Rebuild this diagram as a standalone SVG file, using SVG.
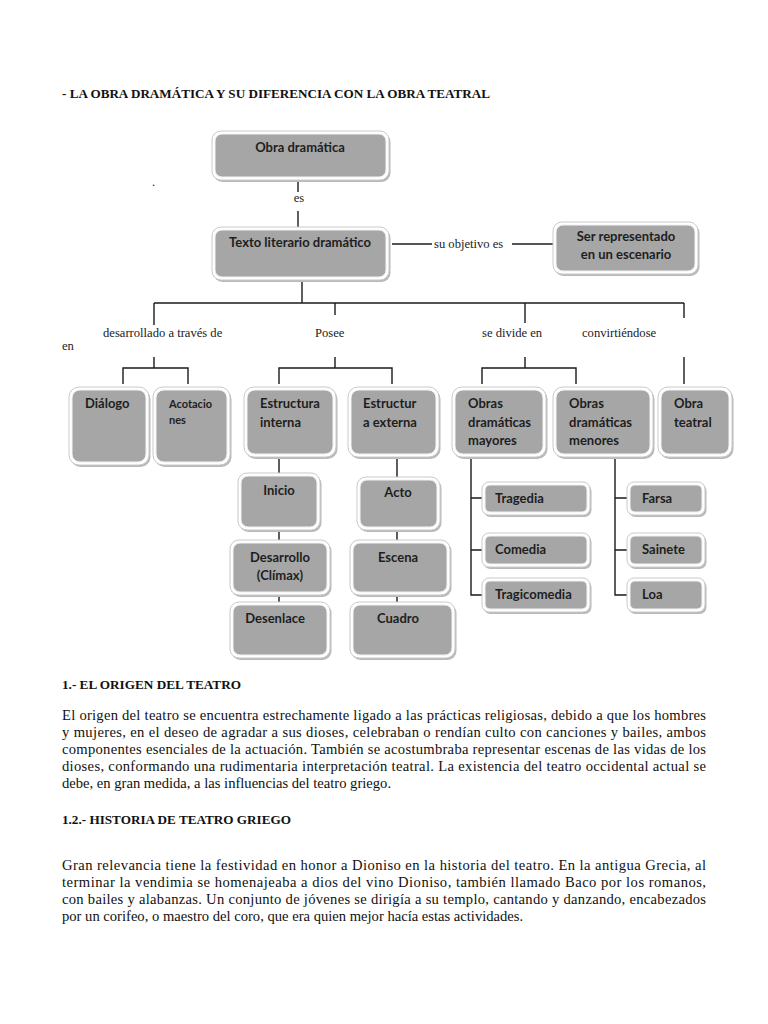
<svg xmlns="http://www.w3.org/2000/svg" width="768" height="1024" viewBox="0 0 768 1024">
<style>
.bg{fill:#ffffff}
.sh{fill:#b9b9b9}
.halo{fill:#ffffff;stroke:#c9c9c9;stroke-width:1}
.box{fill:#a6a6a6;stroke:#f2f2f2;stroke-width:1}
.nt{font-family:Lato,"Open Sans",sans-serif;font-weight:bold;font-size:13px;fill:#1e1e1e}
.ns{font-family:Lato,"Open Sans",sans-serif;font-weight:bold;font-size:11px;fill:#1e1e1e}
.c{text-anchor:middle}
.lbl{font-family:"Liberation Serif",serif;font-size:12.6px;fill:#222}
.conn{stroke:#1a1a1a;stroke-width:1.4;fill:none}
.soft{stroke:#555;stroke-width:2;fill:none}
.hd{font-family:"Liberation Serif",serif;font-weight:bold;font-size:12.5px;fill:#111}
.body{font-family:"Liberation Serif",serif;font-size:14.6px;fill:#111}
</style>
<rect class="bg" x="0" y="0" width="768" height="1024"/>

<text class="hd" x="62" y="98" textLength="428" lengthAdjust="spacingAndGlyphs">- LA OBRA DRAMÁTICA Y SU DIFERENCIA CON LA OBRA TEATRAL</text>
<text class="lbl" x="152" y="186" font-size="10">.</text>

<g id="connectors">
  <line class="conn" x1="298" y1="180" x2="298" y2="192"/>
  <line class="conn" x1="298" y1="211" x2="298" y2="227"/>
  <line class="conn" x1="302" y1="280" x2="302" y2="303"/>
  <line class="soft" x1="392" y1="244" x2="432" y2="244"/>
  <line class="soft" x1="512" y1="244" x2="553" y2="244"/>
  <line class="conn" x1="154" y1="303" x2="684" y2="303"/>
  <line class="conn" x1="154" y1="303" x2="154" y2="325"/>
  <line class="conn" x1="335" y1="303" x2="335" y2="315"/>
  <line class="conn" x1="525" y1="303" x2="525" y2="323"/>
  <line class="conn" x1="684" y1="303" x2="684" y2="318"/>
  <path class="conn" d="M154 357V368M123 384V368H188V384"/>
  <path class="conn" d="M335 357V368M279 384V368H392V384"/>
  <path class="conn" d="M525 357V368M482 384V368H576V384"/>
  <line class="conn" x1="684" y1="357" x2="684" y2="384"/>
  <path class="conn" d="M279 457V473M279 530V540M279 595V602"/>
  <path class="conn" d="M397 457V477M397 530V540M397 595V602"/>
  <path class="conn" d="M471 457V595H482M471 498H482M471 550H482"/>
  <path class="conn" d="M615 457V595H627M615 498H627M615 550H627"/>
  <text class="lbl c" x="299" y="202">es</text>
  <text class="lbl" x="434" y="248">su objetivo es</text>
  <text class="lbl" x="103" y="337">desarrollado a través de</text>
  <text class="lbl" x="315" y="337">Posee</text>
  <text class="lbl" x="482" y="337">se divide en</text>
  <text class="lbl" x="582" y="337">convirtiéndose</text>
  <text class="lbl" x="62" y="350">en</text>
</g>

<g id="obra-dramatica">
  <rect class="sh" x="213.5" y="133" width="177" height="49" rx="9"/>
  <rect class="halo" x="212" y="131" width="177" height="49" rx="9"/>
  <rect class="box" x="215" y="134" width="171" height="43" rx="7"/>
  <text class="nt c" x="300" y="152">Obra dramática</text>
</g>
<g id="texto-literario">
  <rect class="sh" x="213.5" y="229" width="177" height="53" rx="9"/>
  <rect class="halo" x="212" y="227" width="177" height="53" rx="9"/>
  <rect class="box" x="215" y="230" width="171" height="47" rx="7"/>
  <text class="nt c" x="300" y="247">Texto literario dramático</text>
</g>
<g id="ser-representado">
  <rect class="sh" x="554.5" y="224" width="145" height="52" rx="9"/>
  <rect class="halo" x="553" y="222" width="145" height="52" rx="9"/>
  <rect class="box" x="556" y="225" width="139" height="46" rx="7"/>
  <text class="nt c" x="626" y="241">Ser representado</text>
  <text class="nt c" x="626" y="259">en un escenario</text>
</g>

<g id="dialogo">
  <rect class="sh" x="70.5" y="389" width="80" height="78" rx="10"/>
  <rect class="halo" x="69" y="387" width="80" height="78" rx="10"/>
  <rect class="box" x="72" y="390" width="74" height="72" rx="8"/>
  <text class="nt" x="85" y="408">Diálogo</text>
</g>
<g id="acotaciones">
  <rect class="sh" x="154.5" y="389" width="77" height="78" rx="10"/>
  <rect class="halo" x="153" y="387" width="77" height="78" rx="10"/>
  <rect class="box" x="156" y="390" width="71" height="72" rx="8"/>
  <text class="ns" x="169" y="408">Acotacio</text>
  <text class="ns" x="169" y="424">nes</text>
</g>
<g id="estructura-interna">
  <rect class="sh" x="245.5" y="389" width="92" height="70" rx="10"/>
  <rect class="halo" x="244" y="387" width="92" height="70" rx="10"/>
  <rect class="box" x="247" y="390" width="86" height="64" rx="8"/>
  <text class="nt" x="260" y="408">Estructura</text>
  <text class="nt" x="260" y="427">interna</text>
</g>
<g id="estructura-externa">
  <rect class="sh" x="349.5" y="389" width="91" height="70" rx="10"/>
  <rect class="halo" x="348" y="387" width="91" height="70" rx="10"/>
  <rect class="box" x="351" y="390" width="85" height="64" rx="8"/>
  <text class="nt" x="363" y="408">Estructur</text>
  <text class="nt" x="363" y="427">a externa</text>
</g>
<g id="obras-mayores">
  <rect class="sh" x="453.5" y="389" width="94" height="70" rx="10"/>
  <rect class="halo" x="452" y="387" width="94" height="70" rx="10"/>
  <rect class="box" x="455" y="390" width="88" height="64" rx="8"/>
  <text class="nt" x="468" y="408">Obras</text>
  <text class="nt" x="468" y="427">dramáticas</text>
  <text class="nt" x="468" y="445">mayores</text>
</g>
<g id="obras-menores">
  <rect class="sh" x="554.5" y="389" width="100" height="70" rx="10"/>
  <rect class="halo" x="553" y="387" width="100" height="70" rx="10"/>
  <rect class="box" x="556" y="390" width="94" height="64" rx="8"/>
  <text class="nt" x="569" y="408">Obras</text>
  <text class="nt" x="569" y="427">dramáticas</text>
  <text class="nt" x="569" y="445">menores</text>
</g>
<g id="obra-teatral">
  <rect class="sh" x="659.5" y="389" width="74" height="70" rx="10"/>
  <rect class="halo" x="658" y="387" width="74" height="70" rx="10"/>
  <rect class="box" x="661" y="390" width="68" height="64" rx="8"/>
  <text class="nt" x="674" y="408">Obra</text>
  <text class="nt" x="674" y="427">teatral</text>
</g>

<g id="inicio">
  <rect class="sh" x="239.5" y="475" width="82" height="57" rx="9"/>
  <rect class="halo" x="238" y="473" width="82" height="57" rx="9"/>
  <rect class="box" x="241" y="476" width="76" height="51" rx="7"/>
  <text class="nt c" x="279" y="495">Inicio</text>
</g>
<g id="desarrollo">
  <rect class="sh" x="231.5" y="542" width="100" height="55" rx="9"/>
  <rect class="halo" x="230" y="540" width="100" height="55" rx="9"/>
  <rect class="box" x="233" y="543" width="94" height="49" rx="7"/>
  <text class="nt c" x="280" y="562">Desarrollo</text>
  <text class="nt c" x="280" y="580">(Clímax)</text>
</g>
<g id="desenlace">
  <rect class="sh" x="231.5" y="604" width="100" height="56" rx="9"/>
  <rect class="halo" x="230" y="602" width="100" height="56" rx="9"/>
  <rect class="box" x="233" y="605" width="94" height="50" rx="7"/>
  <text class="nt c" x="275" y="623">Desenlace</text>
</g>
<g id="acto">
  <rect class="sh" x="358.5" y="479" width="83" height="53" rx="9"/>
  <rect class="halo" x="357" y="477" width="83" height="53" rx="9"/>
  <rect class="box" x="360" y="480" width="77" height="47" rx="7"/>
  <text class="nt c" x="398" y="497">Acto</text>
</g>
<g id="escena">
  <rect class="sh" x="351.5" y="542" width="100" height="55" rx="9"/>
  <rect class="halo" x="350" y="540" width="100" height="55" rx="9"/>
  <rect class="box" x="353" y="543" width="94" height="49" rx="7"/>
  <text class="nt c" x="398" y="562">Escena</text>
</g>
<g id="cuadro">
  <rect class="sh" x="351.5" y="604" width="105" height="56" rx="9"/>
  <rect class="halo" x="350" y="602" width="105" height="56" rx="9"/>
  <rect class="box" x="353" y="605" width="99" height="50" rx="7"/>
  <text class="nt c" x="398" y="623">Cuadro</text>
</g>

<g id="tragedia">
  <rect class="sh" x="483.5" y="484" width="108" height="33" rx="7"/>
  <rect class="halo" x="482" y="482" width="108" height="33" rx="7"/>
  <rect class="box" x="485" y="485" width="102" height="27" rx="5"/>
  <text class="nt" x="495" y="503">Tragedia</text>
</g>
<g id="comedia">
  <rect class="sh" x="483.5" y="535" width="108" height="34" rx="7"/>
  <rect class="halo" x="482" y="533" width="108" height="34" rx="7"/>
  <rect class="box" x="485" y="536" width="102" height="28" rx="5"/>
  <text class="nt" x="495" y="554">Comedia</text>
</g>
<g id="tragicomedia">
  <rect class="sh" x="483.5" y="580" width="108" height="34" rx="7"/>
  <rect class="halo" x="482" y="578" width="108" height="34" rx="7"/>
  <rect class="box" x="485" y="581" width="102" height="28" rx="5"/>
  <text class="nt" x="495" y="599">Tragicomedia</text>
</g>
<g id="farsa">
  <rect class="sh" x="628.5" y="484" width="78" height="33" rx="7"/>
  <rect class="halo" x="627" y="482" width="78" height="33" rx="7"/>
  <rect class="box" x="630" y="485" width="72" height="27" rx="5"/>
  <text class="nt" x="642" y="503">Farsa</text>
</g>
<g id="sainete">
  <rect class="sh" x="628.5" y="535" width="78" height="34" rx="7"/>
  <rect class="halo" x="627" y="533" width="78" height="34" rx="7"/>
  <rect class="box" x="630" y="536" width="72" height="28" rx="5"/>
  <text class="nt" x="642" y="554">Sainete</text>
</g>
<g id="loa">
  <rect class="sh" x="628.5" y="580" width="78" height="34" rx="7"/>
  <rect class="halo" x="627" y="578" width="78" height="34" rx="7"/>
  <rect class="box" x="630" y="581" width="72" height="28" rx="5"/>
  <text class="nt" x="642" y="599">Loa</text>
</g>

<text class="hd" x="62" y="689" textLength="179" lengthAdjust="spacingAndGlyphs">1.- EL ORIGEN DEL TEATRO</text>
<text class="body" x="62" y="720" textLength="644" lengthAdjust="spacing">El origen del teatro se encuentra estrechamente ligado a las prácticas religiosas, debido a que los hombres</text>
<text class="body" x="62" y="737" textLength="644" lengthAdjust="spacing">y mujeres, en el deseo de agradar a sus dioses, celebraban o rendían culto con canciones y bailes, ambos</text>
<text class="body" x="62" y="754" textLength="644" lengthAdjust="spacing">componentes esenciales de la actuación. También se acostumbraba representar escenas de las vidas de los</text>
<text class="body" x="62" y="771" textLength="644" lengthAdjust="spacing">dioses, conformando una rudimentaria interpretación teatral. La existencia del teatro occidental actual se</text>
<text class="body" x="62" y="788">debe, en gran medida, a las influencias del teatro griego.</text>

<text class="hd" x="62" y="824" textLength="229" lengthAdjust="spacingAndGlyphs">1.2.- HISTORIA DE TEATRO GRIEGO</text>
<text class="body" x="62" y="870" textLength="644" lengthAdjust="spacing">Gran relevancia tiene la festividad en honor a Dioniso en la historia del teatro. En la antigua Grecia, al</text>
<text class="body" x="62" y="887" textLength="644" lengthAdjust="spacing">terminar la vendimia se homenajeaba a dios del vino Dioniso, también llamado Baco por los romanos,</text>
<text class="body" x="62" y="904" textLength="644" lengthAdjust="spacing">con bailes y alabanzas. Un conjunto de jóvenes se dirigía a su templo, cantando y danzando, encabezados</text>
<text class="body" x="62" y="921">por un corifeo, o maestro del coro, que era quien mejor hacía estas actividades.</text>
</svg>
